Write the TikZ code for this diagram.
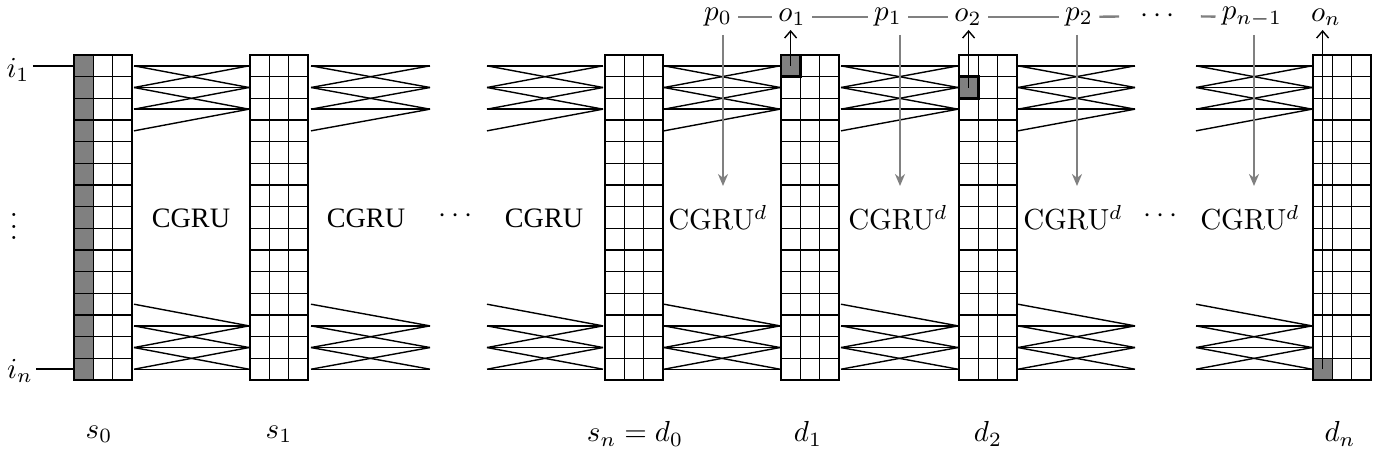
\documentclass[tikz,border=0pt]{standalone}
\usepackage{amsmath}
\usepackage{fontspec}
\newfontfamily\tms{Liberation Serif}
\usetikzlibrary{arrows.meta}
\tikzset{
  grid/.style={line width=1.4pt},
  fan/.style={line width=1.4pt},
  hot/.style={fill=black!50},
  ctl/.style={draw=black!50,line width=2.4pt},
  lbl/.style={scale=2.9,inner sep=1pt},
}
\begin{document}
\begin{tikzpicture}[x=1pt,y=-1pt]
\useasboundingbox (0,0) rectangle (1377,449);
\def\rh{21.67}\def\cw{19.3}
% columns
\foreach \cx in {74,250,605,781,959,1313}{
  \foreach \r in {0,...,14}{\foreach \c in {0,1,2}{
    \draw[grid] (\cx+\c*\cw,55+\r*\rh) rectangle ++(\cw,\rh);}}}
\foreach \r in {0,...,14}{\draw[grid,hot] (74,55+\r*\rh) rectangle ++(\cw,\rh);}
\draw[line width=2.4pt,hot] (781,55) rectangle ++(\cw,\rh);
\draw[line width=2.4pt,hot] (959,55+\rh) rectangle ++(\cw,\rh);
\draw[grid,hot] (1313,55+14*\rh) rectangle ++(\cw,\rh);
% fans
\foreach \a/\b in {134/249,311/430,487/603,664/780,841/958,1018/1135,1196/1312}{
  \foreach \l/\r in {0/0,0/1,1/0,1/1,1/2,2/1,2/2,3/2,
                     14/14,14/13,13/14,13/13,13/12,12/13,12/12,11/12}{
    \draw[fan] (\a,55+\l*\rh+\rh/2) -- (\b,55+\r*\rh+\rh/2);}}
% inputs
\node[lbl] (i1) at (18,70) {$i_1$};
\node[lbl] (in) at (20,371) {$i_n$};
\node[lbl] (vd) at (14,218) {$\vdots$};
\coordinate (a1) at (74,66);\coordinate (an) at (74,369);
\draw[fan] (i1.east |- a1) -- (a1);
\draw[fan] (in.east |- an) -- (an);
% cell labels
\node[lbl,font=\fontsize{9.7}{12}\tms] (c1) at (191,218) {CGRU};
\node[lbl,font=\fontsize{9.7}{12}\tms] (c2) at (366,218) {CGRU};
\node[lbl] (cd1) at (458,216) {$\cdots$};
\node[lbl,font=\fontsize{9.7}{12}\tms] (c3) at (544,218) {CGRU};
\node[lbl] (e1) at (718,218) {CGRU$^d$};
\node[lbl] (e2) at (898,218) {CGRU$^d$};
\node[lbl] (e3) at (1073,218) {CGRU$^d$};
\node[lbl] (cd2) at (1163,216) {$\cdots$};
\node[lbl] (e4) at (1250,218) {CGRU$^d$};
% bottom labels
\node[lbl] at (99,434) {$s_0$};
\node[lbl] at (279,434) {$s_1$};
\node[lbl] at (635,434) {$s_n=d_0$};
\node[lbl] at (808,434) {$d_1$};
\node[lbl] at (988,434) {$d_2$};
\node[lbl] at (1340,434) {$d_n$};
% top chain
\node[lbl] (p0) at (718,17) {$p_0$};
\node[lbl] (o1) at (792,17) {$o_1$};
\node[lbl] (p1) at (888,17) {$p_1$};
\node[lbl] (o2) at (968,17) {$o_2$};
\node[lbl] (p2) at (1079,17) {$p_2$};
\node[lbl] (td) at (1160,16) {$\cdots$};
\node[lbl] (pn) at (1252,17) {$p_{n-1}$};
\node[lbl] (on) at (1326,17) {$o_n$};
\foreach \u/\v in {p0/o1,o1/p1,p1/o2,o2/p2}{\draw[ctl,shorten <=3pt,shorten >=3pt] (\u) -- (\v);}
\draw[ctl,shorten <=3pt,shorten >=18pt] (p2) -- (td);
\draw[ctl,shorten <=18pt,shorten >=3pt] (td) -- (pn);
\foreach \x/\n in {723/1,900/2,1077/3,1254/4}{
  \coordinate (t\n) at (\x,35);\coordinate (b\n) at (\x,186);
  \draw[ctl,-{Stealth[length=12pt,width=10pt]}] (t\n) -- (b\n);}
% outputs
\coordinate (g1) at (790.6,66);\coordinate (h1) at (790.6,30);
\coordinate (g2) at (968.6,88);\coordinate (h2) at (968.6,30);
\coordinate (g3) at (1322.6,369);\coordinate (h3) at (1322.6,30);
\foreach \n in {1,2,3}{\draw[fan,-{Straight Barb[length=7pt,width=12pt]}] (g\n) -- (h\n);}
\end{tikzpicture}
\end{document}
